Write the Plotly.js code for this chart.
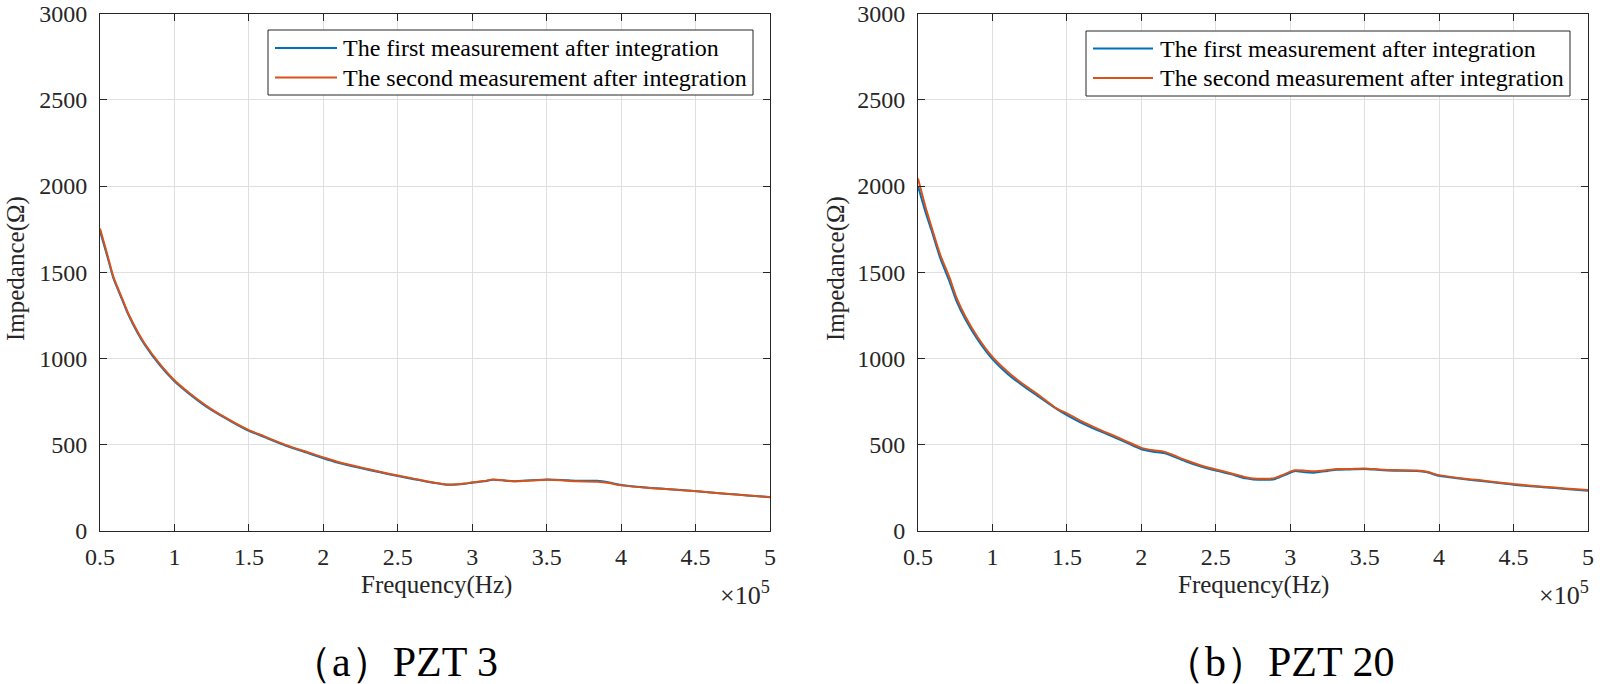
<!DOCTYPE html>
<html>
<head>
<meta charset="utf-8">
<script src="https://cdn.plot.ly/plotly-3.0.1.min.js"></script>
<style>
  html, body { margin: 0; padding: 0; background: #ffffff; }
  #chart { width: 1600px; height: 684px; }
</style>
</head>
<body>
<div id="chart"></div>
<script>
// Frequency in units of 1e5 Hz, impedance in ohms.
const freqPZT3 = [0.50, 0.55, 0.59, 0.65, 0.69, 0.75, 0.80, 0.90, 1.00, 1.10, 1.24, 1.40, 1.50, 1.60, 1.75, 1.90, 2.00, 2.10, 2.25, 2.38, 2.50, 2.60, 2.70, 2.80, 2.86, 2.95, 3.00, 3.08, 3.14, 3.20, 3.28, 3.40, 3.50, 3.60, 3.70, 3.84, 3.92, 3.99, 4.17, 4.30, 4.51, 4.70, 4.85, 5.00];
const pzt3First  = [1738, 1590, 1465, 1338, 1254, 1152, 1080, 963, 868, 795, 706, 626, 581, 546, 494, 451, 422, 396, 365, 340, 319, 302, 285, 271, 268, 274, 280, 288, 297, 294, 288, 294, 298, 296, 291, 291, 281, 268, 252, 244, 231, 216, 206, 196];
const pzt3Second = [1753, 1600, 1473, 1345, 1261, 1160, 1087, 970, 874, 800, 711, 630, 585, 550, 498, 455, 427, 400, 369, 343, 322, 305, 287, 273, 270, 275, 282, 290, 299, 295, 288, 293, 297, 294, 288, 286, 278, 266, 251, 243, 230, 216, 206, 197];

const freqPZT20 = [0.50, 0.55, 0.59, 0.65, 0.71, 0.76, 0.82, 0.90, 1.00, 1.10, 1.20, 1.30, 1.43, 1.50, 1.60, 1.70, 1.80, 1.90, 2.00, 2.08, 2.15, 2.20, 2.30, 2.40, 2.50, 2.60, 2.70, 2.75, 2.85, 2.90, 2.95, 3.00, 3.03, 3.10, 3.16, 3.25, 3.31, 3.40, 3.50, 3.60, 3.70, 3.85, 3.92, 4.00, 4.16, 4.30, 4.50, 4.70, 4.85, 5.00];
const pzt20First  = [2000, 1850, 1745, 1580, 1450, 1330, 1225, 1110, 996, 912, 845, 785, 708, 672, 626, 587, 550, 512, 474, 460, 452, 438, 403, 374, 350, 330, 305, 299, 297, 302, 320, 338, 347, 340, 338, 348, 355, 357, 360, 354, 350, 348, 340, 320, 302, 288, 268, 254, 244, 234];
const pzt20Second = [2043, 1880, 1765, 1600, 1473, 1350, 1241, 1125, 1009, 925, 855, 795, 711, 682, 635, 595, 558, 520, 482, 468, 460, 445, 410, 380, 357, 335, 312, 305, 303, 308, 325, 344, 352, 350, 346, 353, 359, 360, 363, 357, 353, 351, 343, 324, 305, 292, 272, 257, 247, 237];

const seriesNames = ['The first measurement after integration', 'The second measurement after integration'];
const seriesColors = ['#0072BD', '#D95319'];
const captions = ['（a）PZT 3', '（b）PZT 20'];
const xTickVals = [0.5, 1, 1.5, 2, 2.5, 3, 3.5, 4, 4.5, 5];
const xTickText = ['0.5', '1', '1.5', '2', '2.5', '3', '3.5', '4', '4.5', '5'];
const yTickVals = [0, 500, 1000, 1500, 2000, 2500, 3000];
const xTitle = 'Frequency(Hz)';
const yTitle = 'Impedance(Ω)';
const xExponent = '×10<sup>5</sup>';

const W = 1600, H = 684;
const px = x => x / W;
const py = y => 1 - y / H;

const SERIF = 'Liberation Serif, Times New Roman, serif';
const INK = '#262626';

// Panel frames in pixels: [left, right, top, bottom]
const panels = [
  { l: 100, r: 770, t: 13.5, b: 531 },
  { l: 918, r: 1588, t: 13.5, b: 531 }
];

function axisX(p, anchor) {
  return {
    domain: [px(p.l), px(p.r)], anchor: anchor, range: [0.5, 5],
    tickmode: 'array', tickvals: xTickVals, ticktext: xTickText,
    ticks: 'inside', ticklen: 7, tickwidth: 1, tickcolor: INK,
    showline: true, linecolor: INK, linewidth: 1, mirror: 'ticks',
    showgrid: true, gridcolor: '#dfdfdf', gridwidth: 1, zeroline: false,
    tickfont: { family: SERIF, size: 24, color: INK },
    ticklabelstandoff: 4, automargin: false, fixedrange: true
  };
}
function axisY(p, anchor) {
  return {
    domain: [py(p.b), py(p.t)], anchor: anchor, range: [0, 3000],
    tickmode: 'array', tickvals: yTickVals,
    ticks: 'inside', ticklen: 7, tickwidth: 1, tickcolor: INK,
    showline: true, linecolor: INK, linewidth: 1, mirror: 'ticks',
    showgrid: true, gridcolor: '#dfdfdf', gridwidth: 1, zeroline: false,
    tickfont: { family: SERIF, size: 24, color: INK },
    ticklabelstandoff: 7, automargin: false, fixedrange: true
  };
}

const traces = [
  { x: freqPZT3, y: pzt3First, xaxis: 'x', yaxis: 'y', name: seriesNames[0] },
  { x: freqPZT3, y: pzt3Second, xaxis: 'x', yaxis: 'y', name: seriesNames[1] },
  { x: freqPZT20, y: pzt20First, xaxis: 'x2', yaxis: 'y2', name: seriesNames[0] },
  { x: freqPZT20, y: pzt20Second, xaxis: 'x2', yaxis: 'y2', name: seriesNames[1] }
].map((t, i) => Object.assign(t, {
  type: 'scatter', mode: 'lines', showlegend: false, hoverinfo: 'skip',
  line: { color: seriesColors[i % 2], width: 2, shape: 'spline', smoothing: 0.6 }
}));

const shapes = [];
const annotations = [];

// Boxed legend in the upper right of each panel
const legendBoxes = [
  { l: 268, r: 753, t: 30, b: 95, lineL: 275, lineR: 337, textX: 341, rows: [48, 77.5] },
  { l: 1086, r: 1570, t: 31, b: 96, lineL: 1093, lineR: 1153, textX: 1158, rows: [48.5, 78] }
];
legendBoxes.forEach(lb => {
  shapes.push({ type: 'rect', xref: 'paper', yref: 'paper',
    x0: px(lb.l), x1: px(lb.r), y0: py(lb.b), y1: py(lb.t),
    line: { color: INK, width: 1 }, fillcolor: '#ffffff', layer: 'above' });
  lb.rows.forEach((ry, k) => {
    shapes.push({ type: 'line', xref: 'paper', yref: 'paper',
      x0: px(lb.lineL), x1: px(lb.lineR), y0: py(ry), y1: py(ry),
      line: { color: seriesColors[k], width: 2 }, layer: 'above' });
    annotations.push({ xref: 'paper', yref: 'paper', x: px(lb.textX), y: py(ry),
      xanchor: 'left', yanchor: 'middle', showarrow: false, text: seriesNames[k],
      font: { family: SERIF, size: 24, color: '#000000' } });
  });
});

// Axis titles, exponent labels and captions
const titleSpots = [
  { xc: 436, yTitleX: 16, expR: 772, cap: 288 },
  { xc: 1253, yTitleX: 836, expR: 1591, cap: 1161 }
];
titleSpots.forEach((s, i) => {
  annotations.push({ xref: 'paper', yref: 'paper', x: px(s.xc), y: py(585),
    xanchor: 'center', yanchor: 'middle', showarrow: false, text: xTitle,
    font: { family: SERIF, size: 25, color: INK } });
  annotations.push({ xref: 'paper', yref: 'paper', x: px(s.yTitleX), y: py(269),
    xanchor: 'center', yanchor: 'middle', showarrow: false, text: yTitle, textangle: -90,
    font: { family: SERIF, size: 25, color: INK } });
  annotations.push({ xref: 'paper', yref: 'paper', x: px(s.expR), y: py(593),
    xanchor: 'right', yanchor: 'middle', showarrow: false, text: xExponent,
    font: { family: SERIF, size: 26, color: INK } });
  annotations.push({ xref: 'paper', yref: 'paper', x: px(s.cap), y: 0, yshift: -3,
    xanchor: 'left', yanchor: 'bottom', showarrow: false, text: captions[i],
    font: { family: SERIF, size: 42, color: '#000000' } });
});

const layout = {
  width: W, height: H,
  margin: { l: 0, r: 0, t: 0, b: 0, pad: 0 },
  paper_bgcolor: '#ffffff', plot_bgcolor: '#ffffff',
  font: { family: SERIF, color: INK },
  showlegend: false,
  xaxis: axisX(panels[0], 'y'), yaxis: axisY(panels[0], 'x'),
  xaxis2: axisX(panels[1], 'y2'), yaxis2: axisY(panels[1], 'x2'),
  shapes: shapes, annotations: annotations
};

Plotly.newPlot('chart', traces, layout, { staticPlot: true, displayModeBar: false });
</script>
</body>
</html>
